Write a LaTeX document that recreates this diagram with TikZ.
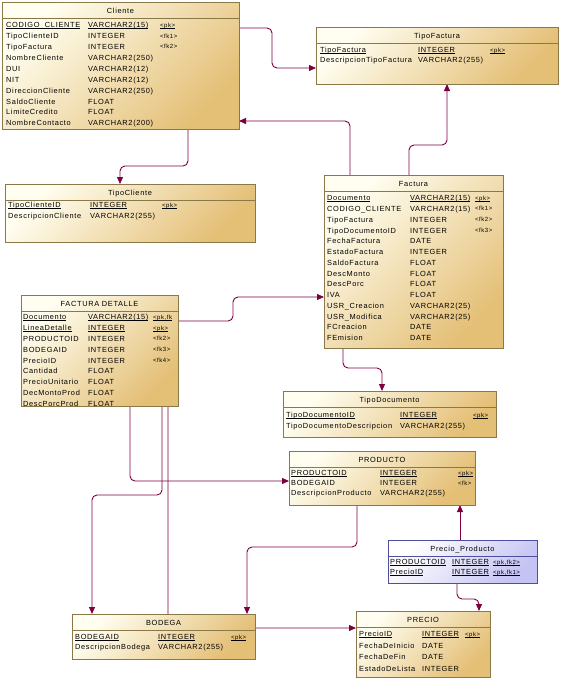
\documentclass[tikz,border=0pt]{standalone}
\usepackage{fontspec}
\setmainfont{Liberation Sans}[LetterSpace=9]
\usetikzlibrary{arrows.meta}
\definecolor{boxA}{HTML}{FFFEF0}
\definecolor{boxB}{HTML}{E4BF76}
\definecolor{boxline}{HTML}{8A7848}
\definecolor{ppA}{HTML}{FFFFFF}
\definecolor{ppB}{HTML}{C5C3F3}
\definecolor{ppline}{HTML}{4F4F9F}
\definecolor{conn}{HTML}{7F0040}
\pgfdeclarelayer{bg}
\pgfsetlayers{bg,main}
\newcommand\plainarg[1]{#1}
\newcommand\ulx[1]{\setbox0=\hbox{#1}\rlap{\rule[-1.2pt]{\wd0}{0.45pt}}\box0}
\tikzset{
  erbox/.style={draw=boxline, line width=0.8pt, top color=boxA, bottom color=boxB, shading angle=45, inner sep=0pt, outer sep=0pt},
  ppbox/.style={draw=ppline, line width=0.8pt, top color=ppA, bottom color=ppB, shading angle=45, inner sep=0pt, outer sep=0pt},
  erboxsep/.style={draw=boxline, line width=0.6pt},
  ppboxsep/.style={draw=ppline, line width=0.6pt},
  ertitle/.style={inner sep=0pt, font=\fontsize{7.4}{8}\selectfont, text height=5.4pt, text depth=0pt},
  ercell/.style={inner sep=0pt, anchor=west, font=\fontsize{7.4}{8}\selectfont, text height=5.4pt, text depth=0pt},
  erkey/.style={inner sep=0pt, anchor=west, font=\fontsize{6}{7}\selectfont, text height=4.3pt, text depth=0pt},
  link/.style={draw=conn, line width=0.9pt, rounded corners=5pt, -{Triangle[length=7pt,width=6pt]}}
}
% #1 style, #2 name, #3 x1, #4 y1, #5 x2, #6 y2, #7 title
\newcommand\ertab[7][erbox]{%
  \node[#1, minimum width={#5-#3}, minimum height={#6-#4}] (#2) at ({(#3+#5)/2},{(#4+#6)/2}) {};
  \node[ertitle] (#2-title) at ({(#3+#5)/2},{#4+8.5}) {#7};
  \draw[#1sep] (#3,{#4+16.5}) -- (#5,{#4+16.5});
}
% #1 name, #2 xn, #3 xt, #4 xk, #5 y0, #6 dy, #7 list
\newcommand\errows[7]{%
  \foreach \cn/\ct/\ck/\cu [count=\ci] in {#7} {
    \pgfmathsetmacro\cy{#5+(\ci-1)*#6}
    \ifnum\cu=1 \let\mk\ulx\else\let\mk\plainarg\fi
    \node[ercell] (#1-n\ci) at (#2,\cy) {\mk{\cn}};
    \node[ercell] (#1-t\ci) at (#3,\cy) {\mk{\ct}};
    \ifx\ck\empty\else\node[erkey] (#1-k\ci) at (#4,\cy) {\mk{\ck}};\fi
  }
}
\begin{document}
\begin{tikzpicture}[x=1pt,y=-1pt]
\begin{pgfonlayer}{bg}
\fill[white] (0,0) rectangle (571,681);
\end{pgfonlayer}
\useasboundingbox (0,0) rectangle (571,681);

% Cliente
\ertab{cli}{2}{2}{239}{129}{Cliente}
\errows{cli}{6}{88}{160}{25}{10.9}{%
CODIGO\_CLIENTE/{VARCHAR2(15)}/{<pk>}/1,
TipoClienteID/INTEGER/{<fk1>}/0,
TipoFactura/INTEGER/{<fk2>}/0,
NombreCliente/{VARCHAR2(250)}/{}/0,
DUI/{VARCHAR2(12)}/{}/0,
NIT/{VARCHAR2(12)}/{}/0,
DireccionCliente/{VARCHAR2(250)}/{}/0,
SaldoCliente/FLOAT/{}/0,
LimiteCredito/FLOAT/{}/0,
NombreContacto/{VARCHAR2(200)}/{}/0}

% TipoFactura
\ertab{tf}{316}{27}{558}{84}{TipoFactura}
\errows{tf}{320}{418}{490}{50}{10}{%
TipoFactura/INTEGER/{<pk>}/1,
DescripcionTipoFactura/{VARCHAR2(255)}/{}/0}

% TipoCliente
\ertab{tc}{5}{184}{255}{242}{TipoCliente}
\errows{tc}{8}{90}{162}{205}{10.5}{%
TipoClienteID/INTEGER/{<pk>}/1,
DescripcionCliente/{VARCHAR2(255)}/{}/0}

% Factura
\ertab{fac}{324}{175}{503}{348}{Factura}
\errows{fac}{327}{410}{475}{198}{10.77}{%
Documento/{VARCHAR2(15)}/{<pk>}/1,
CODIGO\_CLIENTE/{VARCHAR2(15)}/{<fk1>}/0,
TipoFactura/INTEGER/{<fk2>}/0,
TipoDocumentoID/INTEGER/{<fk3>}/0,
FechaFactura/DATE/{}/0,
EstadoFactura/INTEGER/{}/0,
SaldoFactura/FLOAT/{}/0,
DescMonto/FLOAT/{}/0,
DescPorc/FLOAT/{}/0,
IVA/FLOAT/{}/0,
USR\_Creacion/{VARCHAR2(25)}/{}/0,
USR\_Modifica/{VARCHAR2(25)}/{}/0,
FCreacion/DATE/{}/0,
FEmision/DATE/{}/0}

% FACTURA DETALLE
\ertab{fd}{21}{295}{178}{406}{FACTURA DETALLE}
\begin{scope}
\clip (21,295) rectangle (178,405.6);
\errows{fd}{23}{88}{153}{317}{10.85}{%
Documento/{VARCHAR2(15)}/{<pk,fk}/1,
LineaDetalle/INTEGER/{<pk>}/1,
PRODUCTOID/INTEGER/{<fk2>}/0,
BODEGAID/INTEGER/{<fk3>}/0,
PrecioID/INTEGER/{<fk4>}/0,
Cantidad/FLOAT/{}/0,
PrecioUnitario/FLOAT/{}/0,
DecMontoProd/FLOAT/{}/0,
DescPorcProd/FLOAT/{}/0}
\end{scope}

% TipoDocumento
\ertab{td}{283}{391}{496}{437}{TipoDocumento}
\errows{td}{286}{400}{473}{415}{10.5}{%
TipoDocumentoID/INTEGER/{<pk>}/1,
TipoDocumentoDescripcion/{VARCHAR2(255)}/{}/0}

% PRODUCTO
\ertab{pro}{289}{451}{475}{505}{PRODUCTO}
\errows{pro}{291}{380}{458}{473}{10}{%
PRODUCTOID/INTEGER/{<pk>}/1,
BODEGAID/INTEGER/{<fk>}/0,
DescripcionProducto/{VARCHAR2(255)}/{}/0}

% Precio_Producto
\ertab[ppbox]{pp}{388}{540}{537}{583}{Precio\_Producto}
\errows{pp}{390}{452}{493}{562}{10}{%
PRODUCTOID/INTEGER/{<pk,fk2>}/1,
PrecioID/INTEGER/{<pk,fk1>}/1}

% BODEGA
\ertab{bod}{72}{614}{255}{659}{BODEGA}
\errows{bod}{75}{158}{231}{637}{10}{%
BODEGAID/INTEGER/{<pk>}/1,
DescripcionBodega/{VARCHAR2(255)}/{}/0}

% PRECIO
\ertab{pre}{356}{611}{490}{677}{PRECIO}
\errows{pre}{359}{422}{465}{634}{11.6}{%
PrecioID/INTEGER/{<pk>}/1,
FechaDeInicio/DATE/{}/0,
FechaDeFin/DATE/{}/0,
EstadoDeLista/INTEGER/{}/0}

\begin{pgfonlayer}{bg}
\draw[link] (cli.east |- 0,28) -- (272,28) -- (272,68) -- (tf.west |- 0,68);
\draw[link] (cli.south -| 188,0) -- (188,166) -- (120,166) -- (tc.north -| 120,0);
\draw[link] (fac.north -| 350,0) -- (350,121) -- (cli.east |- 0,121);
\draw[link] (fac.north -| 409,0) -- (409,145) -- (447,145) -- (tf.south -| 447,0);
\draw[link] (fd.east |- 0,321) -- (233,321) -- (233,297) -- (fac.west |- 0,297);
\draw[link] (fac.south -| 343,0) -- (343,368) -- (382,368) -- (td.north -| 382,0);
\draw[link] (fd.south -| 130,0) -- (130,481) -- (pro.west |- 0,481);
\draw[link] (fd.south -| 162,0) -- (162,495) -- (92,495) -- (bod.north -| 92,0);
\draw[link] (fd.south -| 168,0) -- (168,628) -- (pre.west |- 0,628);
\draw[link] (pro.south -| 357,0) -- (357,547) -- (247,547) -- (bod.north -| 247,0);
\draw[link] (pp.north -| 460,0) -- (pro.south -| 460,0);
\draw[link] (pp.south -| 457,0) -- (457,599) -- (479,599) -- (pre.north -| 479,0);
\end{pgfonlayer}
\end{tikzpicture}
\end{document}
